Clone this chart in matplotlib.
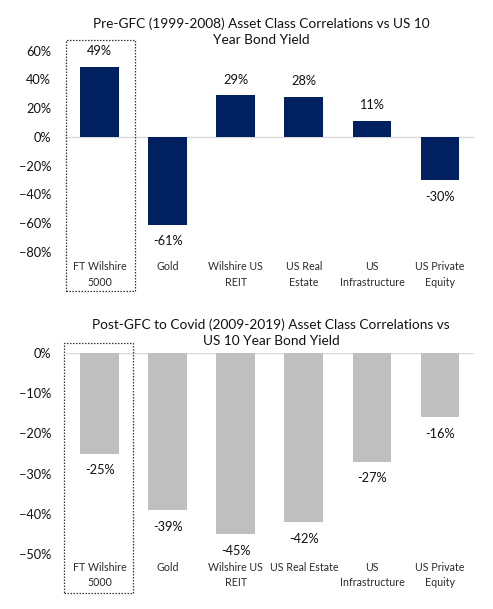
import matplotlib
matplotlib.use("Agg")
import matplotlib.pyplot as plt
from matplotlib.patches import Rectangle
from matplotlib.transforms import blended_transform_factory
from matplotlib.ticker import PercentFormatter

plt.rcParams['font.family'] = ['Lato', 'DejaVu Sans']

categories_top = ["FT Wilshire\n5000", "Gold", "Wilshire US\nREIT", "US Real\nEstate",
                  "US\nInfrastructure", "US Private\nEquity"]
categories_bot = ["FT Wilshire\n5000", "Gold", "Wilshire US\nREIT", "US Real Estate",
                  "US\nInfrastructure", "US Private\nEquity"]
pre_gfc = [0.49, -0.61, 0.29, 0.28, 0.11, -0.30]
post_gfc = [-0.25, -0.39, -0.45, -0.42, -0.27, -0.16]
title_top = "Pre-GFC (1999-2008) Asset Class Correlations vs US 10\nYear Bond Yield"
title_bot = "Post-GFC to Covid (2009-2019) Asset Class Correlations vs\nUS 10 Year Bond Yield"
yticks_top = [0.6, 0.4, 0.2, 0.0, -0.2, -0.4, -0.6, -0.8]
yticks_bot = [0.0, -0.1, -0.2, -0.3, -0.4, -0.5]

W, H = 493, 609
fig = plt.figure(figsize=(W / 100, H / 100), dpi=100)

NAVY = "#002060"
GREY = "#BFBFBF"
TXT = "#111111"
CAT = "#2b2b2b"

def fy(px):
    return 1 - px / H

def make(ax_top_px, ax_bot_px, ylim, yticks, vals, cats, color, title, tcx, tcy,
         box_px, cat_top_px):
    ax = fig.add_axes([65.7 / W, fy(ax_bot_px), 408.3 / W, (ax_bot_px - ax_top_px) / H])
    x = list(range(len(vals)))
    ax.bar(x, vals, width=0.57, color=color, zorder=2)
    ax.set_xlim(-0.5, len(vals) - 0.5)
    ax.set_ylim(*ylim)
    ax.axhline(0, color="#d9d9d9", lw=1.0, zorder=1)
    for s in ax.spines.values():
        s.set_visible(False)
    ax.set_xticks([])
    ax.set_yticks(yticks)
    ax.yaxis.set_major_formatter(PercentFormatter(1.0, decimals=0))
    ax.tick_params(axis='y', length=0, pad=10.5, labelsize=9.2, labelcolor=TXT)
    for xi, v in zip(x, vals):
        off = 11.3 if v >= 0 else -12
        ax.annotate(f"{round(v * 100):.0f}%", (xi, v), xytext=(0, off),
                    textcoords="offset points", ha="center", va="center",
                    fontsize=9.2, color=TXT)
    tr = blended_transform_factory(ax.transData, fig.transFigure)
    for xi, c in zip(x, cats):
        ax.text(xi, fy(cat_top_px), c, transform=tr, ha="center", va="top",
                fontsize=7.7, color=CAT, linespacing=1.45)
    x0, x1, y0, y1 = box_px
    fig.patches.append(Rectangle((x0 / W, fy(y1)), (x1 - x0) / W, (y1 - y0) / H,
                                 transform=fig.transFigure, fill=False,
                                 ls=(0, (1.2, 1.2)), lw=0.9, ec="#333333"))
    fig.text(tcx / W, fy(tcy), title, ha="center", va="center", fontsize=9.8,
             color=TXT, linespacing=1.4)
    return ax

make(50.7, 252.0, (-0.8, 0.6), yticks_top, pre_gfc, categories_top, NAVY,
     title_top, 261.7, 31.3, (65.7, 135.0, 40.0, 291.0), 261.5)
make(352.7, 554.3, (-0.5, 0.0), yticks_bot, post_gfc, categories_bot, GREY,
     title_bot, 271.0, 332.8, (64.3, 133.3, 342.7, 593.3), 562.0)

fig.savefig("out.png", dpi=100)
